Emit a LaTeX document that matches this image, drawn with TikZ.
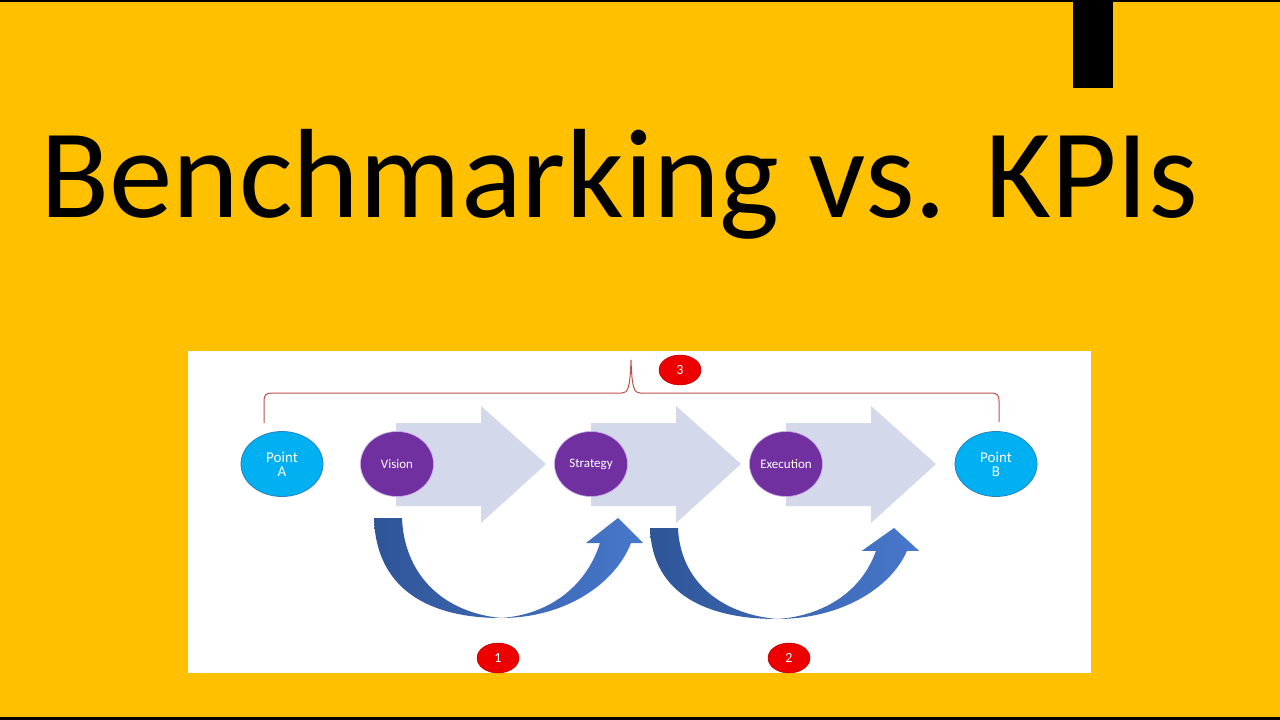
\documentclass[tikz,border=0pt]{standalone}
\usepackage{fontspec}
\setmainfont{Carlito}
\usetikzlibrary{shapes.geometric}
\definecolor{bgyellow}{RGB}{255,192,0}
\definecolor{pointblue}{RGB}{0,176,240}
\definecolor{pointedge}{RGB}{40,130,190}
\definecolor{stagepurple}{RGB}{112,48,160}
\definecolor{stageedge}{RGB}{205,170,235}
\definecolor{flowlight}{RGB}{211,216,234}
\definecolor{bracketred}{RGB}{192,80,77}
\definecolor{numred}{RGB}{236,0,0}
\definecolor{numedge}{RGB}{180,0,0}
\definecolor{curvedark}{RGB}{47,85,151}
\definecolor{curvelight}{RGB}{72,120,204}
\tikzset{
  pointnode/.style={ellipse, fill=pointblue, draw=pointedge, line width=0.8pt,
    minimum width=82pt, minimum height=65pt, inner sep=0pt, text=white,
    font=\fontsize{15}{15}\selectfont, align=center},
  stagenode/.style={ellipse, fill=stagepurple, draw=stageedge, line width=0.6pt,
    minimum width=73pt, minimum height=65pt, inner sep=0pt, text=white,
    font=\fontsize{13}{14}\selectfont},
  numnode/.style={ellipse, fill=numred, draw=numedge, line width=0.5pt,
    minimum width=42pt, minimum height=30pt, inner sep=0pt, text=white,
    font=\fontsize{14}{15}\selectfont},
  flowarrow/.style={fill=flowlight},
  bracketline/.style={draw=bracketred, line width=1pt},
}
\newcommand{\flatarrow}[1]{%
  \fill[flowarrow] (#1,423) -- ++(85,0) -- ++(0,-17) -- ++(65,58) -- ++(-65,59)
    -- ++(0,-17) -- (#1,506) -- cycle;}
\newcommand{\curvearrow}{%
  \shade[left color=curvedark, right color=curvelight]
    (-127,-100) .. controls (-125,-28) and (-71,0) .. (0,0)
    .. controls (64,0) and (114,-34) .. (130,-75)
    -- (142,-75) -- (117,-100) -- (85,-75) -- (99,-75)
    .. controls (84,-28) and (44,-3) .. (0,0)
    .. controls (-61,-6) and (-97,-46) .. (-99,-100) -- cycle;}
\begin{document}
\begin{tikzpicture}[x=1pt,y=-1pt]
\useasboundingbox (0,0) rectangle (1280,720);
\fill[bgyellow] (0,0) rectangle (1280,720);
\fill[black] (0,0) rectangle (1280,2);
\fill[black] (0,717) rectangle (1280,720);
\fill[black] (1073,0) rectangle (1113,88);
\node[anchor=base west, inner sep=0pt, font=\fontsize{127}{140}\selectfont] (title) at (40,217) {Benchmarking vs. KPIs};
% panel
\fill[white] (188,351) rectangle (1091,673);
% flow arrows
\flatarrow{396}
\flatarrow{591}
\flatarrow{786}
% bracket
\draw[bracketline] (264,423) -- (264,401) .. controls (264,395) and (266,393) .. (272,393)
  -- (622,393) .. controls (628,393) and (630,388) .. (631,360)
  .. controls (632,388) and (634,393) .. (640,393)
  -- (991,393) .. controls (997,393) and (999,395) .. (999,401) -- (999,422);
% curved arrows
\begin{scope}[shift={(501,618)}]
  \curvearrow
\end{scope}
\begin{scope}[shift={(777,619)}, yscale=0.91]
  \curvearrow
\end{scope}
% nodes
\node[pointnode] (pa) at (282,464) {Point\\[-1pt]A};
\node[stagenode] (vision) at (397,464) {Vision};
\node[stagenode] (strategy) at (591,464) {Strategy};
\node[stagenode] (execution) at (786,464) {Execution};
\node[pointnode] (pb) at (996,464) {Point\\[-1pt]B};
\node[numnode] (n3) at (680,370) {3};
\node[numnode] (n1) at (498,658) {1};
\node[numnode] (n2) at (789,658) {2};
\end{tikzpicture}
\end{document}
